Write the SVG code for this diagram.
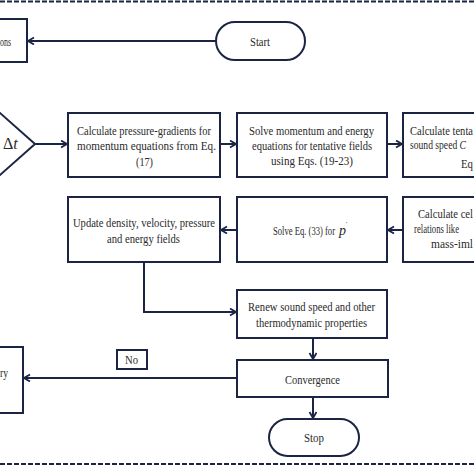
<svg xmlns="http://www.w3.org/2000/svg" width="474" height="474" viewBox="0 0 474 474">
<style>
.b{fill:#fff;stroke:#1b2543;stroke-width:2}
.c{fill:none;stroke:#1b2543;stroke-width:2}
.t{font-family:"Liberation Serif","Times New Roman",serif;font-size:13px;fill:#2a2a2a}
.d{fill:none;stroke:#1b2543;stroke-width:2.2;stroke-dasharray:5,2}
</style>
<defs>
<marker id="a" markerUnits="userSpaceOnUse" markerWidth="10" markerHeight="10" refX="7" refY="4" orient="auto">
<path d="M1,0.5 L7,4 L1,7.5" fill="none" stroke="#1b2543" stroke-width="1.8"/>
</marker>
</defs>
<rect width="474" height="474" fill="#fff"/>
<line class="d" x1="0" y1="1.5" x2="474" y2="1.5"/>
<line class="d" x1="0" y1="464" x2="474" y2="464"/>
<g id="connectors">
<path class="c" d="M216,41 H28" marker-end="url(#a)"/>
<path class="c" d="M35,144 H67" marker-end="url(#a)"/>
<path class="c" d="M220,144 H236" marker-end="url(#a)"/>
<path class="c" d="M387,144 H402" marker-end="url(#a)"/>
<path class="c" d="M403,230 H388" marker-end="url(#a)"/>
<path class="c" d="M237,230 H221" marker-end="url(#a)"/>
<path class="c" d="M144,262 V312 H236" marker-end="url(#a)"/>
<path class="c" d="M313,338 V359" marker-end="url(#a)"/>
<path class="c" d="M237,378 H24" marker-end="url(#a)"/>
<path class="c" d="M313,397 V418" marker-end="url(#a)"/>
</g>
<g id="ons">
<rect class="b" x="-20" y="19" width="47" height="43"/>
<text class="t" x="0" y="46" textLength="11" lengthAdjust="spacingAndGlyphs">ons</text>
</g>
<g id="start">
<rect class="b" x="216" y="22" width="89" height="38" rx="19"/>
<text class="t" x="250" y="46" textLength="20" lengthAdjust="spacingAndGlyphs">Start</text>
</g>
<g id="dt">
<polygon class="b" points="-35,144 0,113 35,144 0,175"/>
<text x="3" y="149" font-family="Liberation Serif,serif" font-size="16" fill="#2a2a2a">Δ<tspan font-style="italic">t</tspan></text>
</g>
<g id="box1">
<rect class="b" x="68" y="113" width="152" height="64"/>
<text class="t" x="77" y="135" textLength="134" lengthAdjust="spacingAndGlyphs">Calculate pressure-gradients for</text>
<text class="t" x="77" y="150" textLength="139" lengthAdjust="spacingAndGlyphs">momentum equations from  Eq.</text>
<text class="t" x="136" y="166" textLength="17" lengthAdjust="spacingAndGlyphs">(17)</text>
</g>
<g id="box2">
<rect class="b" x="237" y="113" width="150" height="64"/>
<text class="t" x="249" y="135" textLength="125" lengthAdjust="spacingAndGlyphs">Solve momentum and energy</text>
<text class="t" x="252" y="150" textLength="120" lengthAdjust="spacingAndGlyphs">equations for tentative fields</text>
<text class="t" x="271" y="165" textLength="82" lengthAdjust="spacingAndGlyphs">using Eqs. (19-23)</text>
</g>
<g id="box3">
<rect class="b" x="403" y="113" width="90" height="64"/>
<text class="t" x="410" y="135" textLength="63" lengthAdjust="spacingAndGlyphs">Calculate tenta</text>
<text class="t" x="410" y="149" textLength="56" lengthAdjust="spacingAndGlyphs">sound speed <tspan font-style="italic">C</tspan></text>
<text class="t" x="461" y="168" textLength="12" lengthAdjust="spacingAndGlyphs">Eq</text>
</g>
<g id="cell">
<rect class="b" x="403" y="197" width="90" height="65"/>
<text class="t" x="418" y="218" textLength="55" lengthAdjust="spacingAndGlyphs">Calculate cel</text>
<text class="t" x="414" y="233" textLength="45" lengthAdjust="spacingAndGlyphs">relations like</text>
<text class="t" x="431" y="248" textLength="42" lengthAdjust="spacingAndGlyphs">mass-iml</text>
</g>
<g id="solve">
<rect class="b" x="237" y="197" width="150" height="65"/>
<text class="t" x="273" y="235" textLength="62" lengthAdjust="spacingAndGlyphs">Solve Eq. (33) for</text>
<text x="339" y="235" font-family="Liberation Serif,serif" font-size="14" font-style="italic" fill="#2a2a2a">p<tspan font-size="7" font-style="normal" dy="-9">'</tspan></text>
</g>
<g id="update">
<rect class="b" x="68" y="197" width="152" height="65"/>
<text class="t" x="73" y="227" textLength="142" lengthAdjust="spacingAndGlyphs">Update density, velocity, pressure</text>
<text class="t" x="107" y="243" textLength="73" lengthAdjust="spacingAndGlyphs">and energy fields</text>
</g>
<g id="renew">
<rect class="b" x="237" y="290" width="150" height="48"/>
<text class="t" x="248" y="311" textLength="127" lengthAdjust="spacingAndGlyphs">Renew sound speed and other</text>
<text class="t" x="256" y="327" textLength="111" lengthAdjust="spacingAndGlyphs">thermodynamic properties</text>
</g>
<g id="convergence">
<rect class="b" x="237" y="360" width="151" height="37"/>
<text class="t" x="285" y="384" textLength="55" lengthAdjust="spacingAndGlyphs">Convergence</text>
</g>
<g id="no">
<rect class="b" x="117" y="350" width="30" height="19" stroke-width="1.6"/>
<text class="t" x="125" y="364" textLength="13" lengthAdjust="spacingAndGlyphs">No</text>
</g>
<g id="ry">
<rect class="b" x="-20" y="347" width="43" height="66"/>
<text class="t" x="0" y="377" textLength="8" lengthAdjust="spacingAndGlyphs">ry</text>
</g>
<g id="stop">
<rect class="b" x="269" y="419" width="90" height="37" rx="18.5"/>
<text class="t" x="304" y="442" textLength="20" lengthAdjust="spacingAndGlyphs">Stop</text>
</g>
</svg>
